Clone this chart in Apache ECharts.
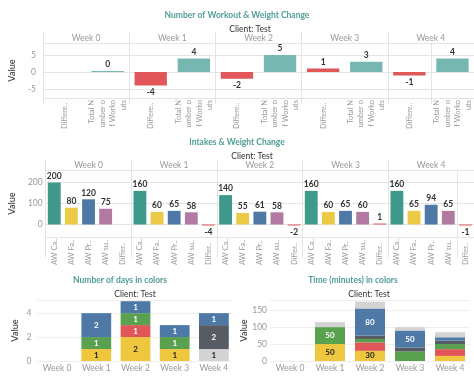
<!DOCTYPE html>
<html><head><meta charset="utf-8">
<script src="https://cdn.jsdelivr.net/npm/echarts@6/dist/echarts.min.js"></script>
<style>html,body{margin:0;padding:0;background:#fff}#c{width:474px;height:379px}</style>
</head><body><div id="c"></div>
<script>
// ---------- data ----------
const weeks = ['Week 0', 'Week 1', 'Week 2', 'Week 3', 'Week 4'];

const workoutCats = ['Differe..', 'Total N\number o\nf Worko\nuts'];
const workoutDiff = [null, -4, -2, 1, -1];
const workoutTotal = [0, 4, 5, 3, 4];

const intakeCats = ['AW Ca..', 'AW Fa..', 'AW Pr..', 'AW su..', 'Differ..'];
const intakeCal = [200, 160, 140, 160, 160];
const intakeFat = [80, 60, 55, 60, 65];
const intakePro = [120, 65, 61, 65, 94];
const intakeSug = [75, 58, 58, 60, 65];
const intakeDiff = [null, -4, -2, 1, -1];

const colorNames = ['Yellow', 'Light gray', 'Red', 'Green', 'Dark gray', 'Blue'];
const daysYellow = [null, 1, 2, 1, null];
const daysLight = [null, null, null, null, 1];
const daysRed = [null, null, 1, null, null];
const daysGreen = [null, 1, 1, 1, null];
const daysDark = [null, null, null, null, 2];
const daysBlue = [null, 2, 1, 1, 1];

const timeYellow = [null, 50, 30, null, 15];
const timeRed = [null, null, 25, null, 20];
const timeGreen = [null, 50, 10, 28, 15];
const timeDark = [null, null, 10, 12, 10];
const timeBlue = [null, null, 80, 50, 10];
const timeLight = [null, 15, 20, 10, 15];

// ---------- style ----------
const F = 'Lato, "Noto Sans", sans-serif';
const LINE = '#e4e4e4';
const AXT = '#9a9a9a';
const TITLE = '#4f9d97';
const RED = '#e15759', TEAL = '#76b7b2';
const intakeColors = ['#3f9a8b', '#edc948', '#4e79a7', '#b07aa1', '#e15759'];
const colorMap = {
  'Yellow': '#efc73e', 'Light gray': '#d3d3d3', 'Red': '#e15759',
  'Green': '#59a14f', 'Dark gray': '#575c64', 'Blue': '#4e79a7'
};
const darkLabel = {'Yellow': true, 'Light gray': true};

const chart = echarts.init(document.getElementById('c'));

// workout data
const wCatsAll = [];
const wData = [];
weeks.forEach((w, i) => {
  [workoutDiff[i], workoutTotal[i]].forEach((v, j) => {
    wCatsAll.push(workoutCats[j]);
    wData.push(v == null ? null : {
      value: v, itemStyle: {color: j === 0 ? RED : TEAL},
      label: {position: v < 0 ? 'bottom' : 'top'}
    });
  });
});
// intake data
const iCatsAll = [];
const iData = [];
const intakeSeries = [intakeCal, intakeFat, intakePro, intakeSug, intakeDiff];
weeks.forEach((w, i) => {
  intakeSeries.forEach((arr, j) => {
    iCatsAll.push(intakeCats[j]);
    const v = arr[i];
    iData.push(v == null ? null : {
      value: v, itemStyle: {color: intakeColors[j]},
      label: {position: v < 0 ? 'bottom' : 'top'}
    });
  });
});

const daysArrays = [daysYellow, daysLight, daysRed, daysGreen, daysDark, daysBlue];
const timeArrays = [timeYellow, timeRed, timeGreen, timeDark, timeBlue, timeLight];
const timeNames = ['Yellow', 'Red', 'Green', 'Dark gray', 'Blue', 'Light gray'];

function valueAxis(grid, opts) {
  return Object.assign({
    gridIndex: grid, type: 'value',
    axisLine: {show: false}, axisTick: {show: false},
    splitLine: {show: true, lineStyle: {color: '#efefef'}},
    axisLabel: {color: AXT, fontSize: 8.5, fontFamily: F, showMinLabel: false, showMaxLabel: false},
    name: 'Value', nameLocation: 'middle',
    nameTextStyle: {color: '#555', fontSize: 9, fontWeight: 'bold', fontFamily: F}
  }, opts);
}
function headerAxis(grid, len) {
  return {
    gridIndex: grid, type: 'category', position: 'top', data: weeks,
    axisLine: {show: true, lineStyle: {color: LINE}},
    axisTick: {show: true, length: len, interval: 0, lineStyle: {color: LINE}},
    axisLabel: {color: AXT, fontSize: 8.5, fontFamily: F, margin: 0, interval: 0},
    splitLine: {show: false}
  };
}
const multiFmt = v => v.indexOf('\n') >= 0 ? v.split('\n').map(l => '{r|' + l + '}').join('\n') : v;
const TF = 'bold 8.5px ' + F;

const option = {
  animation: false,
  textStyle: {fontFamily: F},
  graphic: [
    {type: 'text', x: 237, y: 15, style: {text: 'Number of Workout & Weight Change', fill: TITLE, font: TF, align: 'center', verticalAlign: 'middle'}},
    {type: 'text', x: 250, y: 29, style: {text: 'Client: Test', fill: '#333', font: '8.5px ' + F, align: 'center', verticalAlign: 'middle'}},
    {type: 'text', x: 237, y: 142, style: {text: 'Intakes & Weight Change', fill: TITLE, font: TF, align: 'center', verticalAlign: 'middle'}},
    {type: 'text', x: 252, y: 156, style: {text: 'Client: Test', fill: '#333', font: '8.5px ' + F, align: 'center', verticalAlign: 'middle'}},
    {type: 'text', x: 120, y: 280, style: {text: 'Number of days in colors', fill: TITLE, font: TF, align: 'center', verticalAlign: 'middle'}},
    {type: 'text', x: 135, y: 294, style: {text: 'Client: Test', fill: '#333', font: '8.5px ' + F, align: 'center', verticalAlign: 'middle'}},
    {type: 'text', x: 353, y: 280, style: {text: 'Time (minutes) in colors', fill: TITLE, font: TF, align: 'center', verticalAlign: 'middle'}},
    {type: 'text', x: 369, y: 294, style: {text: 'Client: Test', fill: '#333', font: '8.5px ' + F, align: 'center', verticalAlign: 'middle'}}
  ],
  grid: [
    {left: 32, right: 0, top: 43, height: 55},
    {left: 38, right: 0, top: 170, height: 67},
    {left: 37.5, width: 196, top: 300, height: 61},
    {left: 270, width: 200, top: 300, height: 61}
  ],
  xAxis: [
    {
      gridIndex: 0, type: 'category', data: wCatsAll,
      axisLine: {show: true, lineStyle: {color: LINE}},
      axisTick: {show: true, interval: 1, length: 32, lineStyle: {color: LINE}},
      splitLine: {show: true, interval: 1, lineStyle: {color: LINE}},
      axisLabel: {
        interval: 0, rotate: 90, align: 'left', margin: 31, color: AXT, fontSize: 7.5,
        fontFamily: F, lineHeight: 10.5, formatter: multiFmt,
        rich: {r: {width: 29, align: 'right', color: AXT, fontSize: 7.5, fontFamily: F, lineHeight: 10.5}}
      }
    },
    headerAxis(0, 11),
    {
      gridIndex: 1, type: 'category', data: iCatsAll,
      axisLine: {show: true, lineStyle: {color: LINE}},
      axisTick: {show: true, interval: 4, length: 33, lineStyle: {color: LINE}},
      splitLine: {show: true, interval: 4, lineStyle: {color: LINE}},
      axisLabel: {interval: 0, rotate: 90, align: 'left', margin: 28, color: AXT, fontSize: 7.5, fontFamily: F}
    },
    headerAxis(1, 10),
    {
      gridIndex: 2, type: 'category', data: weeks,
      axisLine: {show: false}, axisTick: {show: false},
      axisLabel: {color: AXT, fontSize: 8.5, fontFamily: F, margin: 3, interval: 0}
    },
    {
      gridIndex: 3, type: 'category', data: weeks,
      axisLine: {show: false}, axisTick: {show: false},
      axisLabel: {color: AXT, fontSize: 8.5, fontFamily: F, margin: 3, interval: 0}
    }
  ],
  yAxis: [
    valueAxis(0, {min: -7.65, max: 8.53, splitNumber: 3, nameGap: 13,
      axisLabel: {color: AXT, fontSize: 8.5, fontFamily: F, margin: 7, showMinLabel: false, showMaxLabel: false},
      splitLine: {show: true, lineStyle: {color: LINE}}}),
    valueAxis(1, {min: -59.5, max: 259.5, splitNumber: 3, nameGap: 21,
      axisLabel: {color: AXT, fontSize: 8.5, fontFamily: F, margin: 3, showMinLabel: false, showMaxLabel: false},
      splitLine: {show: true, lineStyle: {color: LINE}}}),
    valueAxis(2, {min: 0, max: 5.1, interval: 2, nameGap: 18,
      axisLabel: {color: AXT, fontSize: 8.5, fontFamily: F, margin: 6, showMaxLabel: false}}),
    valueAxis(3, {min: 0, max: 180, interval: 50, nameGap: 20,
      axisLabel: {color: AXT, fontSize: 8.5, fontFamily: F, margin: 3, showMaxLabel: false}})
  ],
  series: [
    {
      type: 'bar', xAxisIndex: 0, yAxisIndex: 0, data: wData, barWidth: '75%', barMinHeight: 1,
      label: {show: true, distance: 2, color: '#333', fontSize: 8.5, fontWeight: 'bold', fontFamily: F}
    },
    {
      type: 'bar', xAxisIndex: 2, yAxisIndex: 1, data: iData, barWidth: '75%', barMinHeight: 1,
      label: {show: true, distance: 2, color: '#333', fontSize: 8.5, fontWeight: 'bold', fontFamily: F}
    }
  ].concat(daysArrays.map((arr, k) => ({
    type: 'bar', name: colorNames[k], stack: 'days', xAxisIndex: 4, yAxisIndex: 2,
    data: arr, barWidth: '76%', itemStyle: {color: colorMap[colorNames[k]]},
    label: {show: true, position: 'inside', color: darkLabel[colorNames[k]] ? '#222' : '#fff',
      fontSize: 8, fontWeight: 'bold', fontFamily: F}
  }))).concat(timeArrays.map((arr, k) => ({
    type: 'bar', name: timeNames[k], stack: 'time', xAxisIndex: 5, yAxisIndex: 3,
    data: arr, barWidth: '75%', itemStyle: {color: colorMap[timeNames[k]]},
    label: {show: true, position: 'inside', color: darkLabel[timeNames[k]] ? '#222' : '#fff',
      fontSize: 8, fontWeight: 'bold', fontFamily: F,
      formatter: p => (p.value >= 30 ? p.value : '')}
  })))
};
chart.setOption(option);
</script>
</body></html>
